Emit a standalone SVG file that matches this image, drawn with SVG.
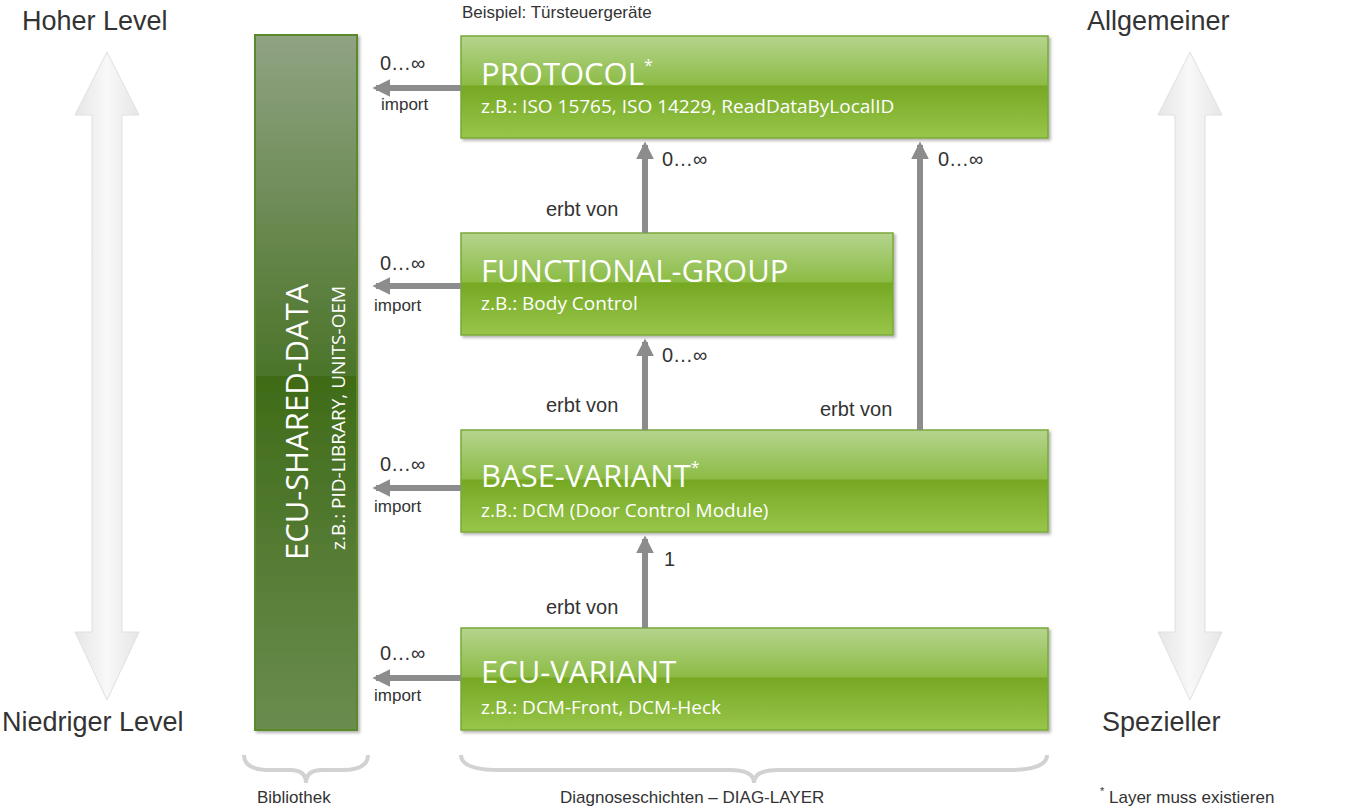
<svg xmlns="http://www.w3.org/2000/svg" width="1352" height="810" viewBox="0 0 1352 810">
<style>
.lbl{font-family:"Liberation Sans",Arial,sans-serif;fill:#333}
.big{font-size:27px}
.mid{font-size:20px}
.sm{font-size:17px}
.t1{font-family:"Open Sans",sans-serif;font-size:31px;fill:#fff}
.t2{font-family:"Open Sans",sans-serif;font-size:19px;fill:#fff}
.node{stroke:#7aa838;stroke-width:1.5}
.conn{stroke:#8c8c8c;stroke-width:6;fill:none}
.brace{stroke:#d2d2d2;stroke-width:4;fill:none}
</style>
<defs>
<linearGradient id="g" x1="0" y1="0" x2="0" y2="1">
<stop offset="0" stop-color="#b5d48e"/><stop offset="0.48" stop-color="#8cbc45"/><stop offset="0.49" stop-color="#76a823"/><stop offset="1" stop-color="#98c64a"/>
</linearGradient>
<linearGradient id="gs" x1="0" y1="0" x2="0" y2="1">
<stop offset="0" stop-color="#90a383"/><stop offset="0.49" stop-color="#4b7429"/><stop offset="0.49" stop-color="#3f6b17"/><stop offset="1" stop-color="#6a8c50"/>
</linearGradient>
<linearGradient id="ga" x1="0" y1="0" x2="1" y2="0">
<stop offset="0" stop-color="#e6e6e6"/><stop offset="0.5" stop-color="#f8f8f8"/><stop offset="1" stop-color="#e6e6e6"/>
</linearGradient>
<marker id="ah" viewBox="0 0 10 10" refX="8" refY="5" markerWidth="3" markerHeight="3" orient="auto"><path d="M0,0L10,5L0,10z" fill="#8c8c8c"/></marker>
<filter id="sh"><feDropShadow dx="2" dy="2" stdDeviation="1.5" flood-opacity="0.3"/></filter>
</defs>
<g id="arrow-left"><path d="M107,52 L139,115 L122,115 L122,632 L139,632 L107,700 L75,632 L92,632 L92,115 L75,115 Z" fill="url(#ga)" stroke="#e0e0e0"/></g>
<g id="arrow-right"><path d="M1190,52 L1222,115 L1205,115 L1205,632 L1222,632 L1190,700 L1158,632 L1175,632 L1175,115 L1158,115 Z" fill="url(#ga)" stroke="#e0e0e0"/></g>
<text class="lbl big" x="22" y="30">Hoher  Level</text>
<text class="lbl big" x="2" y="731">Niedriger  Level</text>
<text class="lbl big" x="1087" y="30">Allgemeiner</text>
<text class="lbl big" x="1102" y="731">Spezieller</text>
<text class="lbl sm" x="462" y="18">Beispiel: Türsteuergeräte</text>
<g id="shared"><rect x="255" y="35" width="102" height="695" fill="url(#gs)" stroke="#5a8a2a" stroke-width="2" filter="url(#sh)"/>
<text class="t1" transform="translate(308,560) rotate(-90)" font-size="31">ECU-SHARED-DATA</text>
<text class="t2" transform="translate(345,550) rotate(-90)">z.B.: PID-LIBRARY, UNITS-OEM</text></g>
<g id="protocol"><rect class="node" x="461" y="36" width="587" height="102" fill="url(#g)" filter="url(#sh)"/>
<text class="t1" x="481" y="85">PROTOCOL<tspan font-size="16" dy="-14">*</tspan></text>
<text class="t2" x="481" y="113">z.B.: ISO 15765,  ISO 14229,  ReadDataByLocalID</text></g>
<g id="functional"><rect class="node" x="461" y="233" width="432" height="102" fill="url(#g)" filter="url(#sh)"/>
<text class="t1" x="481" y="282">FUNCTIONAL-GROUP</text>
<text class="t2" x="481" y="310">z.B.: Body Control</text></g>
<g id="base"><rect class="node" x="461" y="430" width="587" height="102" fill="url(#g)" filter="url(#sh)"/>
<text class="t1" x="481" y="487">BASE-VARIANT<tspan font-size="16" dy="-14">*</tspan></text>
<text class="t2" x="481" y="517">z.B.: DCM (Door Control Module)</text></g>
<g id="ecu"><rect class="node" x="461" y="628" width="587" height="102" fill="url(#g)" filter="url(#sh)"/>
<text class="t1" x="481" y="683">ECU-VARIANT</text>
<text class="t2" x="481" y="714">z.B.: DCM-Front, DCM-Heck</text></g>
<g id="connectors">
<line class="conn" x1="461" y1="88" x2="376" y2="88" marker-end="url(#ah)"/>
<line class="conn" x1="461" y1="286" x2="376" y2="286" marker-end="url(#ah)"/>
<line class="conn" x1="461" y1="488" x2="376" y2="488" marker-end="url(#ah)"/>
<line class="conn" x1="461" y1="678" x2="376" y2="678" marker-end="url(#ah)"/>
<line class="conn" x1="645" y1="233" x2="645" y2="145" marker-end="url(#ah)"/>
<line class="conn" x1="645" y1="430" x2="645" y2="342" marker-end="url(#ah)"/>
<line class="conn" x1="645" y1="628" x2="645" y2="539" marker-end="url(#ah)"/>
<line class="conn" x1="920" y1="430" x2="920" y2="145" marker-end="url(#ah)"/>
</g>
<g class="lbl mid">
<text x="380" y="70">0…∞</text><text x="380" y="270">0…∞</text><text x="380" y="471">0…∞</text><text x="380" y="660">0…∞</text>
<text x="662" y="166">0…∞</text><text x="662" y="362">0…∞</text><text x="938" y="166">0…∞</text><text x="664" y="566">1</text>
<text x="546" y="216">erbt von</text><text x="546" y="412">erbt von</text><text x="546" y="614">erbt von</text><text x="820" y="416">erbt von</text>
</g>
<g class="lbl sm"><text x="381" y="110">import</text><text x="374" y="311">import</text><text x="374" y="512">import</text><text x="374" y="701">import</text></g>
<path class="brace" d="M244,755 Q244,770 270,770 L290,770 Q306,770 306,783 Q306,770 322,770 L342,770 Q368,770 368,755"/>
<path class="brace" d="M461,755 Q461,770 500,770 L730,770 Q754,770 754,783 Q754,770 778,770 L1008,770 Q1047,770 1047,755"/>
<text class="lbl sm" x="257" y="803">Bibliothek</text>
<text class="lbl sm" x="560" y="803">Diagnoseschichten – DIAG-LAYER</text>
<text class="lbl sm" x="1100" y="803"><tspan font-size="11" dy="-8">*</tspan><tspan dy="8"> Layer muss existieren</tspan></text>
</svg>
